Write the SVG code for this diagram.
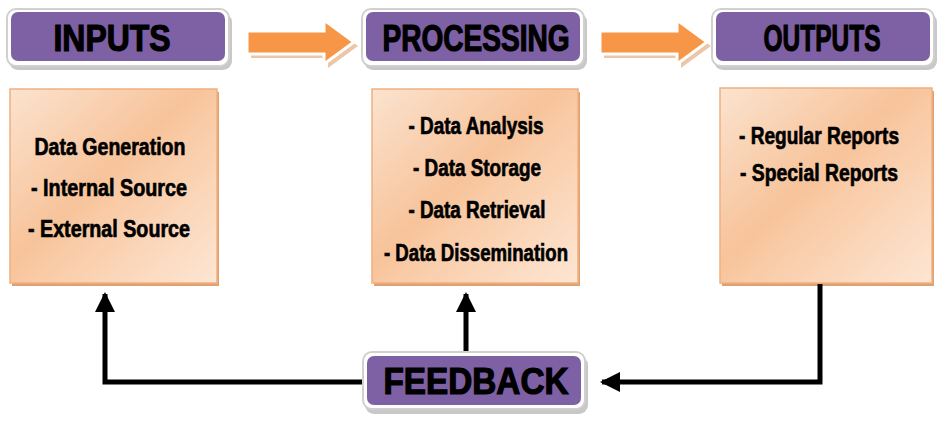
<svg xmlns="http://www.w3.org/2000/svg" width="944" height="422" viewBox="0 0 944 422">
<defs>
<linearGradient id="bg" x1="0" y1="0" x2="1" y2="1">
<stop offset="0" stop-color="#fbe3cf"/><stop offset="0.45" stop-color="#f7c39a"/><stop offset="0.55" stop-color="#f9cba6"/><stop offset="1" stop-color="#fde6d4"/>
</linearGradient>
<marker id="ah" viewBox="0 0 10 10" refX="9" refY="5" markerWidth="4" markerHeight="4" orient="auto"><path d="M0,0 L10,5 L0,10 z" fill="#000"/></marker>
</defs>
<style>
.hdr-o{fill:#fff;stroke:#d0d0d0;stroke-width:2}
.hdr{fill:#7e60a5}
.box{fill:url(#bg);stroke:#f0b080;stroke-width:1.5}
.sh{fill:#c8c8c8}
.bsh{fill:#e0a070}
.ht{font-family:"Liberation Sans",Arial,sans-serif;font-weight:bold;font-size:36px;fill:#000;stroke:#000;stroke-width:1.2;text-anchor:middle}
.bt{font-family:"Liberation Sans",Arial,sans-serif;font-weight:bold;font-size:24px;fill:#000;stroke:#000;stroke-width:0.7;text-anchor:middle}
.ln{fill:none;stroke:#000;stroke-width:5}
.arr{fill:#f79646;stroke:#fff;stroke-width:3}
</style>
<g id="arrows-top">
<path class="bsh" d="M251,35 H328 V24 L358,46 L328,68 V58 H251 z" opacity="0.6"/>
<path class="arr" d="M247,31 H324 V20 L354,42 L324,64 V54 H247 z"/>
<path class="bsh" d="M604,35 H681 V24 L711,46 L681,68 V58 H604 z" opacity="0.6"/>
<path class="arr" d="M600,31 H677 V20 L707,42 L677,64 V54 H600 z"/>
</g>
<g id="inputs">
<rect class="sh" x="9" y="13" width="223" height="57" rx="9"/>
<rect class="hdr-o" x="7" y="9" width="222" height="57" rx="9"/>
<rect class="hdr" x="11" y="12" width="214" height="49" rx="7"/>
<text class="ht" x="112" y="51" textLength="117" lengthAdjust="spacingAndGlyphs">INPUTS</text>
</g>
<g id="inputs-box">
<rect class="bsh" x="12" y="92" width="207" height="194"/>
<rect class="box" x="10" y="89" width="207" height="194"/>
<text class="bt" x="110" y="155" textLength="151" lengthAdjust="spacingAndGlyphs">Data Generation</text>
<text class="bt" x="109" y="196" textLength="156" lengthAdjust="spacingAndGlyphs">- Internal Source</text>
<text class="bt" x="109" y="237" textLength="162" lengthAdjust="spacingAndGlyphs">- External Source</text>
</g>
<g id="processing">
<rect class="sh" x="364" y="13" width="223" height="57" rx="9"/>
<rect class="hdr-o" x="362" y="9" width="222" height="57" rx="9"/>
<rect class="hdr" x="366" y="12" width="214" height="49" rx="7"/>
<text class="ht" x="476" y="51" textLength="187" lengthAdjust="spacingAndGlyphs">PROCESSING</text>
</g>
<g id="processing-box">
<rect class="bsh" x="374" y="92" width="206" height="194"/>
<rect class="box" x="372" y="89" width="206" height="194"/>
<text class="bt" x="476" y="134" textLength="135" lengthAdjust="spacingAndGlyphs">- Data Analysis</text>
<text class="bt" x="477" y="176" textLength="128" lengthAdjust="spacingAndGlyphs">- Data Storage</text>
<text class="bt" x="477" y="218" textLength="137" lengthAdjust="spacingAndGlyphs">- Data Retrieval</text>
<text class="bt" x="476" y="261" textLength="184" lengthAdjust="spacingAndGlyphs">- Data Dissemination</text>
</g>
<g id="outputs">
<rect class="sh" x="714" y="13" width="223" height="57" rx="9"/>
<rect class="hdr-o" x="712" y="9" width="222" height="57" rx="9"/>
<rect class="hdr" x="716" y="12" width="214" height="49" rx="7"/>
<text class="ht" x="822" y="51" textLength="117" lengthAdjust="spacingAndGlyphs">OUTPUTS</text>
</g>
<g id="outputs-box">
<rect class="bsh" x="722" y="91" width="212" height="195"/>
<rect class="box" x="720" y="88" width="212" height="195"/>
<text class="bt" x="819" y="144" textLength="160" lengthAdjust="spacingAndGlyphs">- Regular Reports</text>
<text class="bt" x="819" y="181" textLength="158" lengthAdjust="spacingAndGlyphs">- Special Reports</text>
</g>
<g id="connectors">
<path class="ln" d="M365,382 H105 V294" marker-end="url(#ah)"/>
<path class="ln" d="M466,352 V294" marker-end="url(#ah)"/>
<path class="ln" d="M820,284 V382 H602" marker-end="url(#ah)"/>
</g>
<g id="feedback">
<rect class="sh" x="365" y="356" width="223" height="58" rx="9"/>
<rect class="hdr-o" x="363" y="352" width="222" height="57" rx="9"/>
<rect class="hdr" x="367" y="356" width="214" height="49" rx="7"/>
<text class="ht" x="476" y="394" textLength="185" lengthAdjust="spacingAndGlyphs">FEEDBACK</text>
</g>
</svg>
